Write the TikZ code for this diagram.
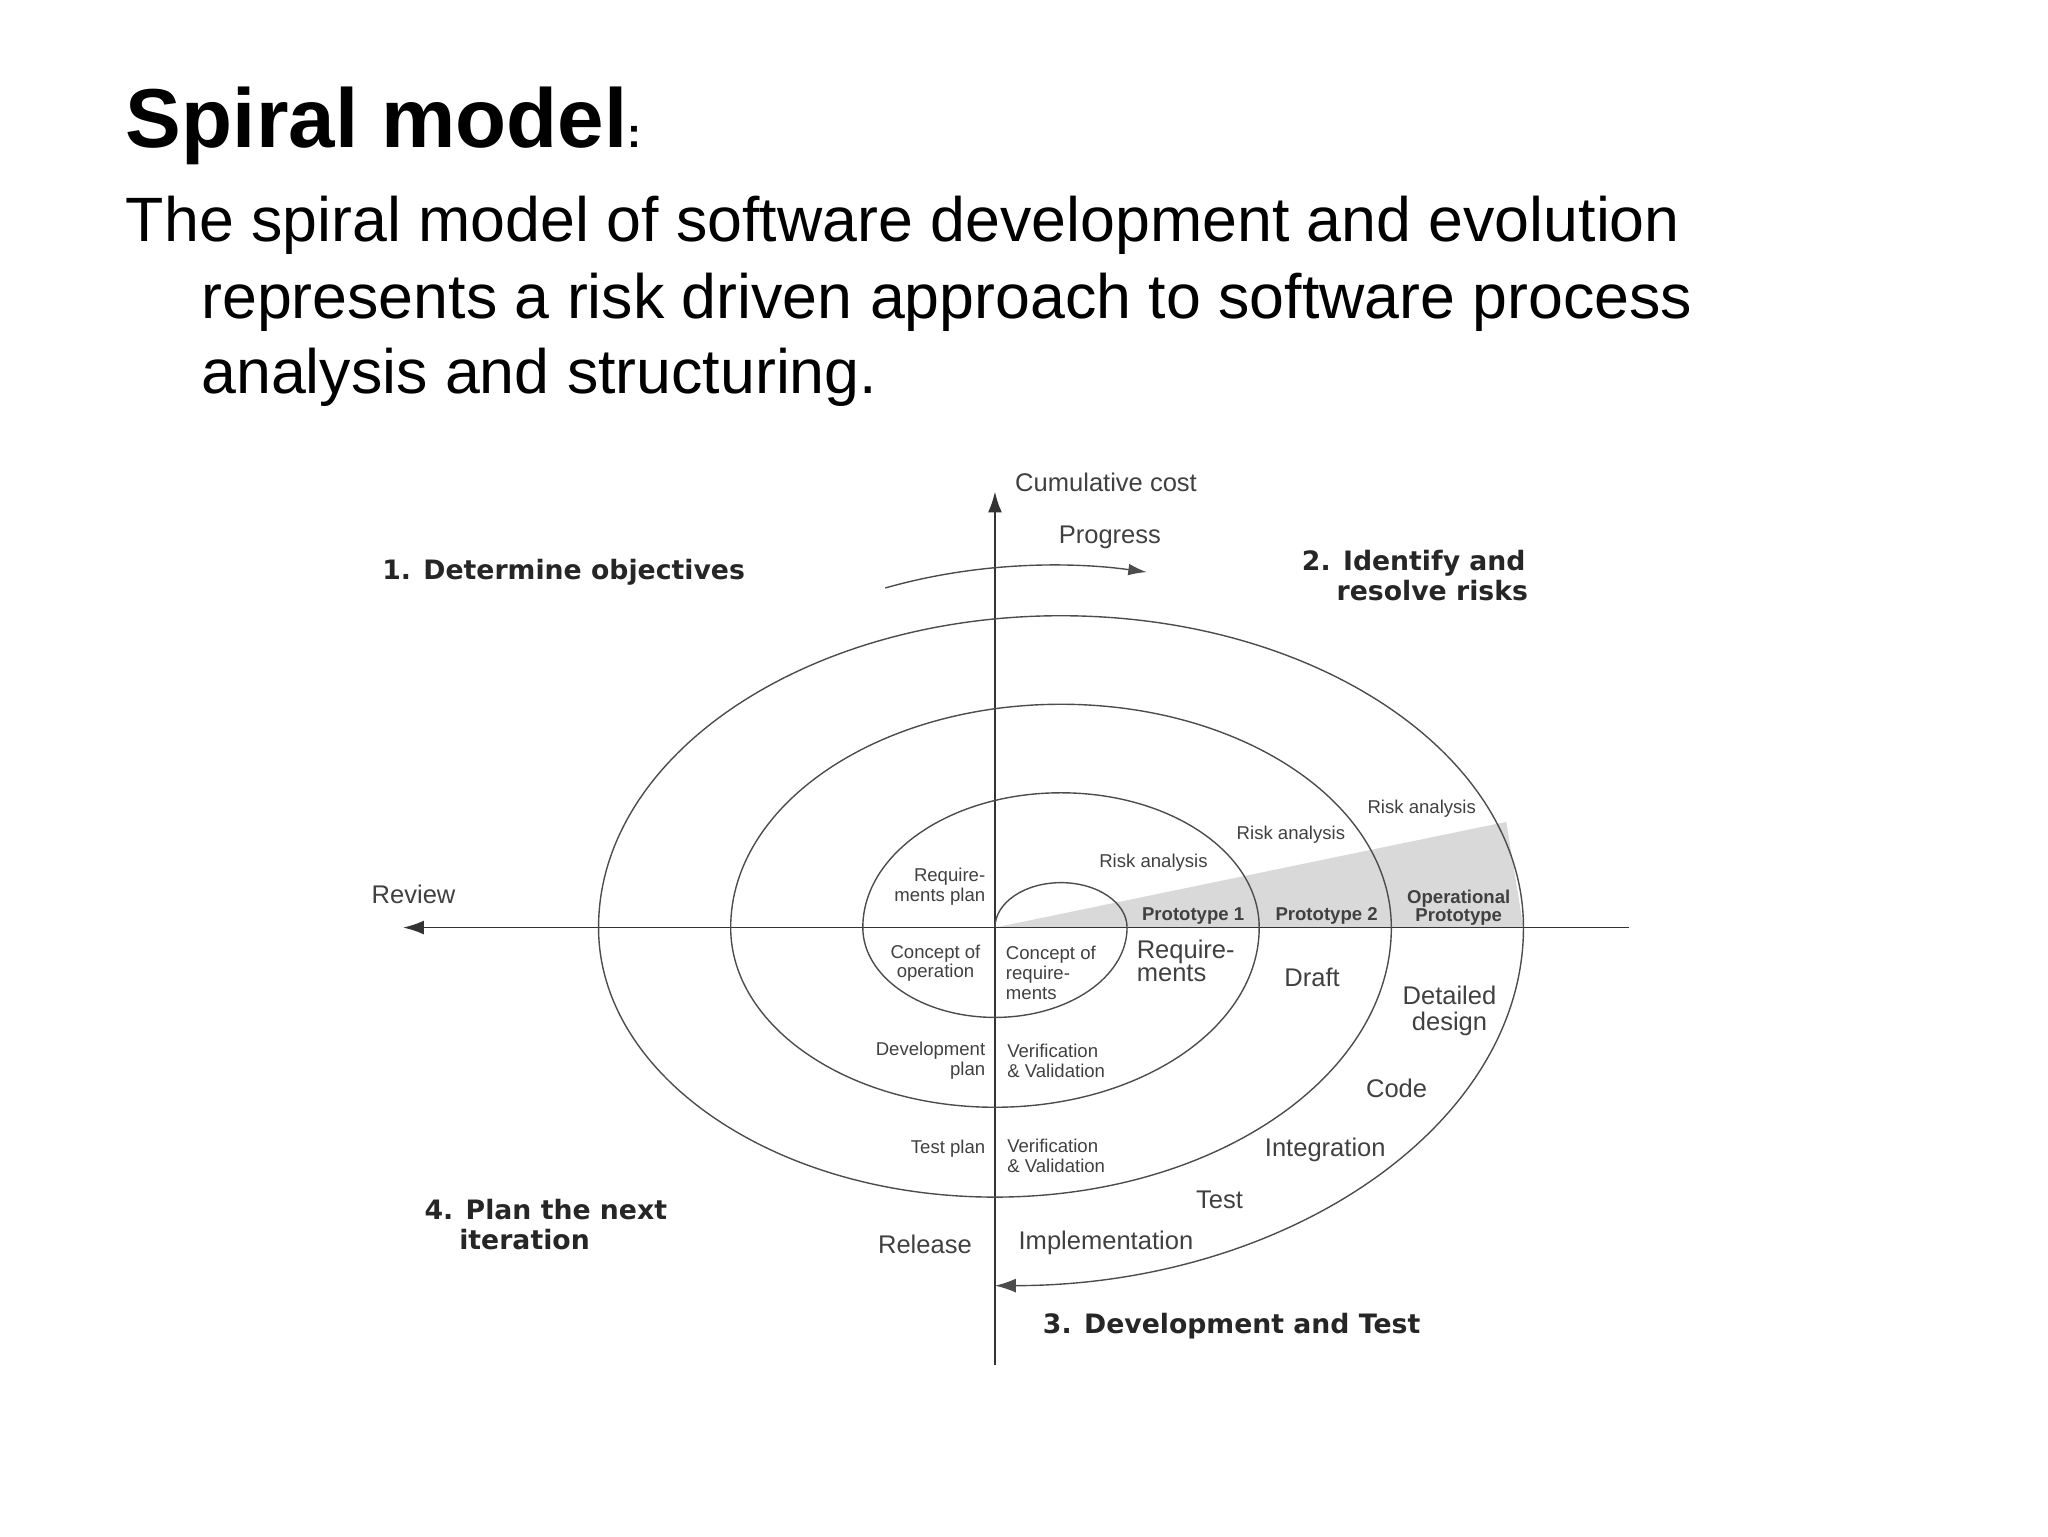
\documentclass[tikz,border=0pt]{standalone}
\usepackage{fontspec}
\setmainfont{Liberation Sans}
\newfontfamily\hdfont{DejaVu Sans}
\usetikzlibrary{arrows.meta}
\begin{document}
\begin{tikzpicture}[x=0.02cm,y=-0.02cm,
  sp/.style={draw=black!70,line width=0.6pt},
  ax/.style={draw=black!80,line width=0.8pt},
  lab/.style={font=\fontsize{11}{12}\selectfont,text=black!75,inner sep=0pt},
  sm/.style={font=\fontsize{8}{8.5}\selectfont,text=black!75,inner sep=0pt,align=center},
  hd/.style={font=\hdfont\fontsize{11.5}{13}\selectfont\bfseries,text=black!85,inner sep=0pt,align=left}]
\useasboundingbox (0,0) rectangle (1550,1163);
\node[anchor=base west,inner sep=0pt,font=\fontsize{36}{40}\selectfont\bfseries] (title) at (95,112) {Spiral model\fontsize{18}{20}\selectfont\bfseries:};
\node[anchor=base west,inner sep=0pt,font=\fontsize{27}{30}\selectfont] (l1) at (95,183) {The spiral model of software development and evolution};
\node[anchor=base west,inner sep=0pt,font=\fontsize{27}{30}\selectfont] (l2) at (152,241) {represents a risk driven approach to software process};
\node[anchor=base west,inner sep=0pt,font=\fontsize{27}{30}\selectfont] (l3) at (152,298) {analysis and structuring.};
% shaded wedge
\fill[black!15] (753,702) -- (1140,622) -- (1153,702) -- cycle;
% axes
\coordinate (o) at (753,702);
\coordinate (xr) at (1233,702); \coordinate (xl) at (305,702);
\coordinate (yb) at (753,1033); \coordinate (yt) at (753,372);
\draw[ax,-{Latex[length=9pt,width=6pt]}] (xr) -- (xl);
\draw[ax,-{Latex[length=9pt,width=6pt]}] (yb) -- (yt);
% spiral
\draw[sp] (753,702) arc[start angle=180,end angle=360,x radius=50,y radius=34]
  arc[start angle=0,end angle=180,x radius=100,y radius=68]
  arc[start angle=180,end angle=360,x radius=150,y radius=102]
  arc[start angle=0,end angle=180,x radius=200,y radius=136]
  arc[start angle=180,end angle=360,x radius=250,y radius=169]
  arc[start angle=0,end angle=180,x radius=300,y radius=204]
  arc[start angle=180,end angle=360,x radius=350,y radius=236];
\draw[sp,-{Latex[length=9pt,width=6pt]}] (1153,702) arc[start angle=0,end angle=90,x radius=400,y radius=271];
% progress arrow
\coordinate (p1) at (670,445); \coordinate (p2) at (868,433);
\draw[sp,-{Latex[length=8pt,width=5pt]}] (p1) .. controls (740,425) and (810,425) .. (p2);
% labels
\node[lab,anchor=west] (cc) at (768,365) {Cumulative cost};
\node[lab] (pr) at (840,407) {Progress};
\node[lab] (rv) at (313,677) {Review};
\node[hd,anchor=west] (h1) at (289,433) {1. Determine objectives};
\node[hd,anchor=north west] (h2) at (985,416) {2. Identify and\\\hspace*{1.3em}resolve risks};
\node[hd,anchor=north west] (h4) at (321,907) {4. Plan the next\\\hspace*{1.3em}iteration};
\node[hd,anchor=west] (h3) at (789,1004) {3. Development and Test};
\node[sm] (ra1) at (873,653) {Risk analysis};
\node[sm] (ra2) at (977,632) {Risk analysis};
\node[sm] (ra3) at (1076,612) {Risk analysis};
\node[sm,font=\fontsize{8}{8.5}\selectfont\bfseries] (pt1) at (903,693) {Prototype 1};
\node[sm,font=\fontsize{8}{8.5}\selectfont\bfseries] (pt2) at (1004,693) {Prototype 2};
\node[sm,font=\fontsize{8}{8}\selectfont\bfseries] (pt3) at (1104,687) {Operational\\Prototype};
\node[sm,align=right,anchor=east] (rp) at (746,671) {Require-\\ments plan};
\node[sm] (co) at (708,729) {Concept of\\operation};
\node[sm,align=left,anchor=north west] (cr) at (761,716) {Concept of\\require-\\ments};
\node[lab,align=left,anchor=north west,font=\fontsize{11}{10}\selectfont] (rq) at (860,711) {Require-\\ments};
\node[lab] (dr) at (993,740) {Draft};
\node[lab,font=\fontsize{11}{11}\selectfont,align=center] (dd) at (1097,765) {Detailed\\design};
\node[lab] (cd) at (1057,824) {Code};
\node[lab] (ig) at (1003,870) {Integration};
\node[lab] (ts) at (923,908) {Test};
\node[lab] (im) at (837,941) {Implementation};
\node[lab] (rl) at (700,942) {Release};
\node[sm,align=right,anchor=east] (dp) at (746,803) {Development\\plan};
\node[sm,align=left,anchor=west] (vv1) at (762,803) {Verification\\\& Validation};
\node[sm,anchor=east] (tp) at (746,869) {Test plan};
\node[sm,align=left,anchor=west] (vv2) at (762,875) {Verification\\\& Validation};
\end{tikzpicture}
\end{document}
